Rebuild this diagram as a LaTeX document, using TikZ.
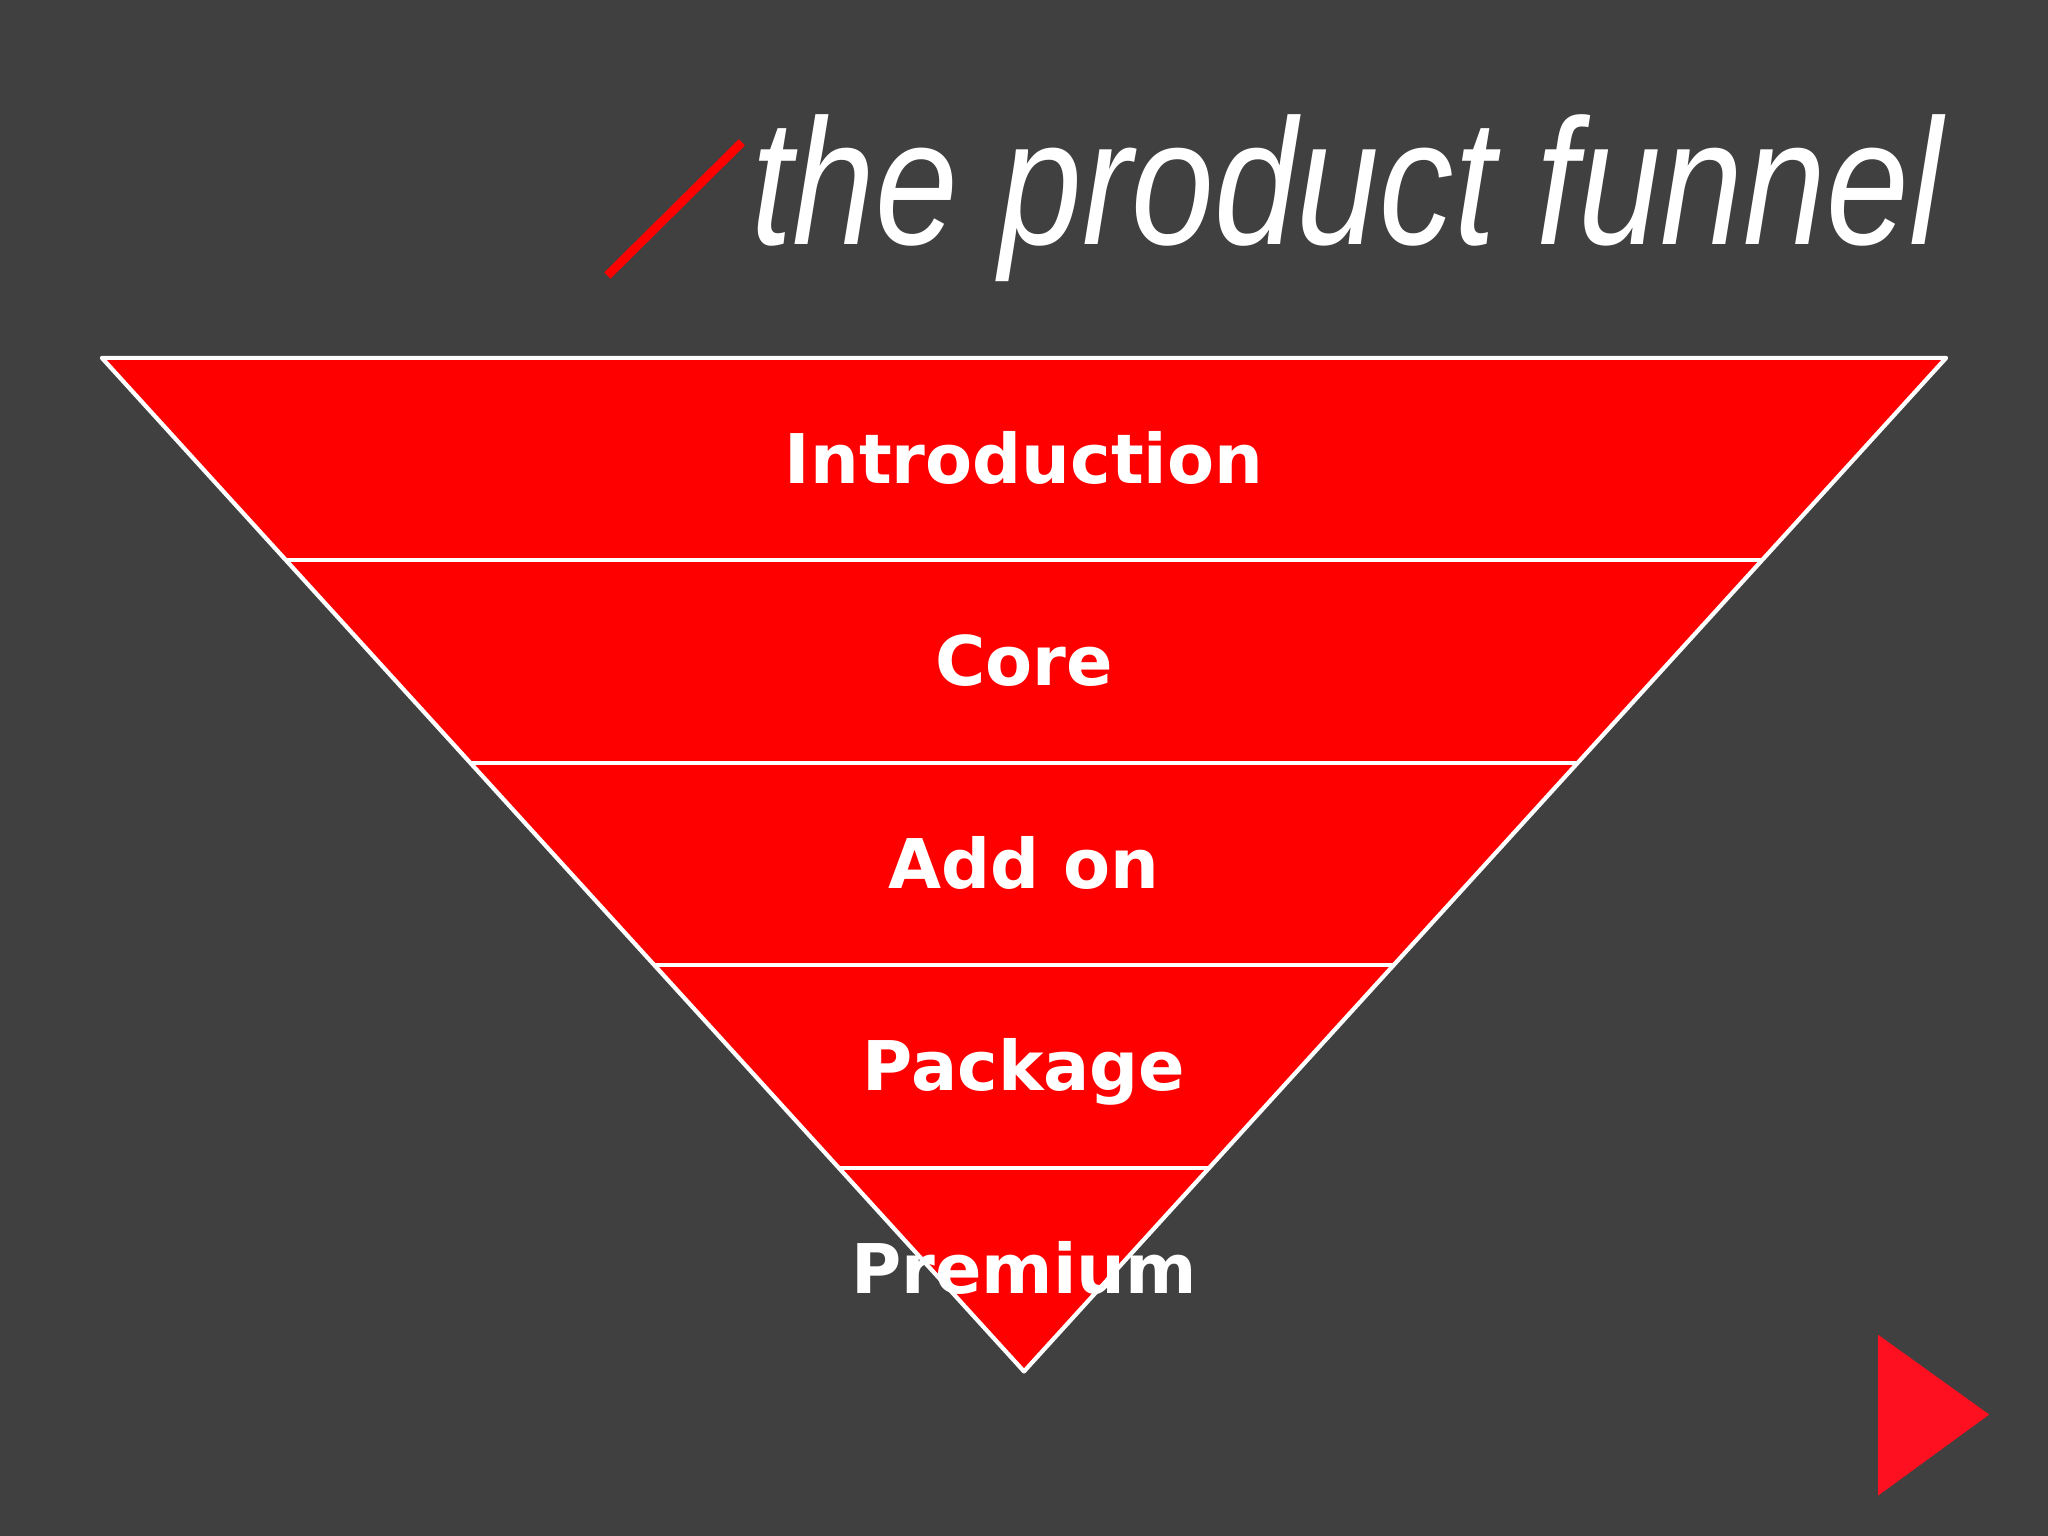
\documentclass[tikz,border=0pt]{standalone}
\usepackage{fontspec}
\setmainfont{DejaVu Sans}
\newfontfamily\titlefont{Liberation Sans}
\definecolor{bg}{HTML}{404040}
\definecolor{fred}{HTML}{FF0000}
\definecolor{tri}{HTML}{FF1020}
\begin{document}
\begin{tikzpicture}[x=0.01306cm,y=-0.01306cm,
  lab/.style={text=white,font=\bfseries\fontsize{19.5}{22}\selectfont,anchor=base},
  edge/.style={draw=white,line width=1.2pt,line join=round}]
\fill[bg] (0,0) rectangle (1568,1176);
\useasboundingbox (0,0) rectangle (1568,1176);
\coordinate (tl) at (78,274); \coordinate (tr) at (1490,274); \coordinate (ap) at (784,1050);
\fill[fred] (tl) -- (tr) -- (ap) -- cycle;
\foreach \y in {429,584,739,894}{
  \pgfmathsetmacro{\dx}{0.909794*(1050-\y)}
  \draw[white,line width=1.2pt] (784-\dx,\y) -- (784+\dx,\y);
}
\draw[edge] (tl) -- (tr) -- (ap) -- cycle;
\node[lab] (n1) at (784,370) {Introduction};
\node[lab] (n2) at (784,525) {Core};
\node[lab] (n3) at (784,680) {Add on};
\node[lab] (n4) at (784,835) {Package};
\node[lab] (n5) at (784,990) {Premium};
\draw[fred,line width=2.5pt] (465,211) -- (568,109);
\node[text=white,font=\titlefont\itshape\fontsize{51}{55}\selectfont,anchor=base east,xscale=0.83,transform shape] (title) at (1495,187) {the product funnel};
\coordinate (t1) at (1438,1022); \coordinate (t2) at (1438,1145); \coordinate (t3) at (1523,1083);
\fill[tri] (t1) -- (t3) -- (t2) -- cycle;
\end{tikzpicture}
\end{document}
